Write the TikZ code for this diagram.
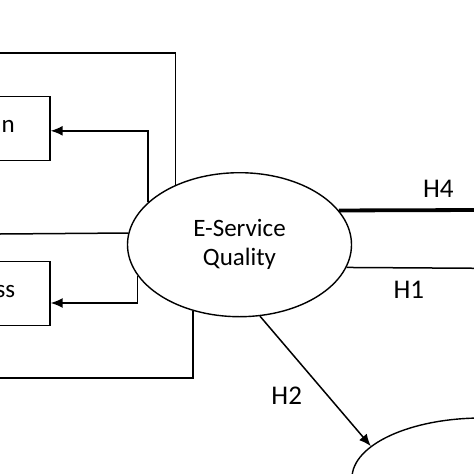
\documentclass[tikz,border=0pt]{standalone}
\usepackage{fontspec}
\setmainfont{Carlito}
\usetikzlibrary{shapes.geometric,arrows.meta}
\begin{document}
\begin{tikzpicture}[x=1pt,y=-1pt,
  every node/.style={font=\fontsize{25}{29.4}\selectfont},
  line/.style={line width=1.5pt},
  thickline/.style={line width=3.8pt},
  arr/.style={line width=1.5pt,-{Latex[length=12pt,width=10pt]}},
  boxnode/.style={draw,line width=1.4pt,minimum width=120pt,minimum height=64pt,inner sep=0pt},
  oval/.style={draw,ellipse,line width=1.4pt,inner sep=0pt,align=center},
  lbl/.style={inner sep=0pt,anchor=base,font=\fontsize{27}{30}\selectfont}]
\clip (0,0) rectangle (474,474);
\node[boxnode,anchor=east] (b1) at (50.7,128.3) {};
\node[boxnode,anchor=east] (b2) at (50.7,293.7) {};
\node[inner sep=0pt,anchor=base east] (t1) at (15,132.7) {n};
\node[inner sep=0pt,anchor=base east] (t2) at (15.3,297.7) {ss};
\node[oval,minimum width=224pt,minimum height=144pt] (esq) at (239.5,244.7) {E-Service\\Quality};
\node[oval,minimum width=260pt,minimum height=120pt] (e2) at (482,478) {};
\coordinate (c1) at (0,53);
\coordinate (c2) at (0,234);
\coordinate (c3) at (0,378);
\coordinate (c4) at (480,210);
\coordinate (c5) at (480,268.3);
\draw[line] (c1) -| (esq.137.5);
\draw[arr] (esq.155.4) |- ([yshift=-2.5pt]b1.east);
\draw[line] (c2) -- (esq.174.5);
\draw[arr] (esq.197) |- ([yshift=-9.3pt]b2.east);
\draw[line] (esq.235.3) |- (c3);
\draw[thickline] (esq.19.5) -- (c4);
\draw[line] (esq.-12.6) -- (c5);
\draw[arr] (esq.-74.2) -- (e2.164.3);
\node[lbl] (h4) at (438.4,197.3) {H4};
\node[lbl] (h1) at (408.9,298.3) {H1};
\node[lbl] (h2) at (286.7,404) {H2};
\end{tikzpicture}
\end{document}
